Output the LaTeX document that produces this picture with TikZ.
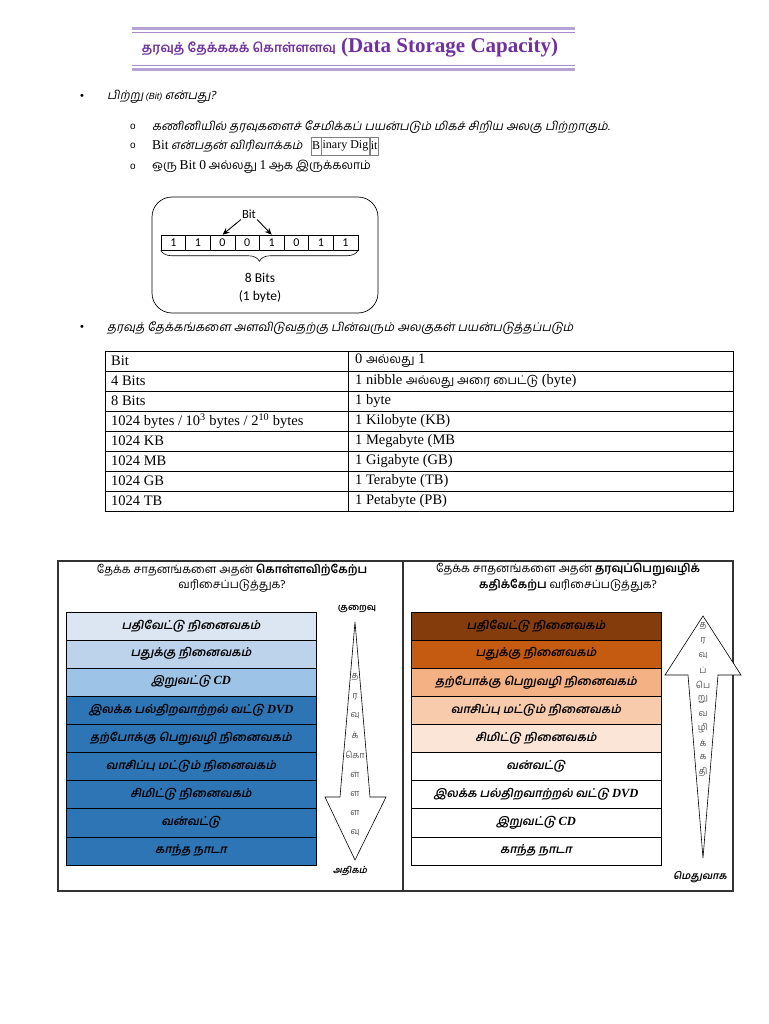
\documentclass[tikz,border=0pt]{standalone}
\usepackage{fontspec}
\setmainfont{Liberation Serif}
\newfontfamily\tam[Script=Tamil]{Hind Madurai}
\newfontfamily\tamit[Script=Tamil,FakeSlant=0.2]{Hind Madurai}
\newfontfamily\arialf{Liberation Sans}
\newfontfamily\calf{Carlito}
\usetikzlibrary{decorations.pathreplacing,arrows.meta}
\definecolor{ttl}{HTML}{7030A0}
\definecolor{ttlline}{HTML}{B7A2D4}
\definecolor{bA}{HTML}{DCE6F2}
\definecolor{bB}{HTML}{BDD3EB}
\definecolor{bC}{HTML}{9DC3E6}
\definecolor{bD}{HTML}{2E75B6}
\definecolor{oA}{HTML}{843C0C}
\definecolor{oB}{HTML}{C55A11}
\definecolor{oC}{HTML}{F4B183}
\definecolor{oD}{HTML}{F8CBAD}
\definecolor{oE}{HTML}{FBE5D6}
\definecolor{arrtxt}{HTML}{555555}
\tikzset{
  txt/.style={inner sep=0pt, anchor=west},
  bul/.style={inner sep=0pt, font=\arialf\fontsize{11}{12}\selectfont},
  subbul/.style={inner sep=0pt, font=\arialf\fontsize{10}{12}\selectfont},
  cell/.style={draw, line width=0.5pt, minimum width=24.6pt, minimum height=15pt, inner sep=0pt, font=\calf\fontsize{12}{14}\selectfont},
  boxcell/.style={draw=gray, line width=0.6pt, inner sep=1pt, minimum height=18pt, font=\fontsize{12}{14}\selectfont, anchor=west},
  tcell/.style={inner sep=0pt, anchor=west, font=\fontsize{14.5}{16}\selectfont},
  stackbox/.style={draw, line width=0.6pt, minimum width=250pt, minimum height=28.1pt, inner sep=0pt, font=\tamit\bfseries\fontsize{11.5}{13}\selectfont},
  vchar/.style={inner sep=0pt, text=arrtxt, font=\tam\fontsize{9}{10}\selectfont},
  hdr/.style={inner sep=0pt, font=\tam\fontsize{11.5}{13}\selectfont},
  arrowshape/.style={draw, line width=0.6pt, fill=white},
}
\newcommand\tamtw{\tam\fontsize{12}{14}\selectfont}
\begin{document}
\begin{tikzpicture}[x=1pt,y=-1pt]
\useasboundingbox (0,0) rectangle (768,1024);
\fill[white] (0,0) rectangle (768,1024);

% Title
\draw[ttlline, line width=3pt] (132,28.5) -- (575,28.5);
\draw[ttlline!80!ttl, line width=0.7pt] (132,32.8) -- (575,32.8);
\draw[ttlline!80!ttl, line width=0.7pt] (132,65.5) -- (575,65.5);
\draw[ttlline, line width=3pt] (132,69.5) -- (575,69.5);
\node[inner sep=0pt, text=ttl] (title) at (350,48) {{\tam\bfseries\fontsize{13}{16}\selectfont தரவுத் தேக்ககக் கொள்ளளவு}\ \ {\bfseries\fontsize{21}{24}\selectfont (Data Storage Capacity)}};

% Bullets
\node[bul] (b1) at (82,97) {•};
\node[txt] (t1) at (107,97) {{\tamit\fontsize{12}{14}\selectfont பிற்று} {\arialf\itshape\fontsize{9}{10}\selectfont (Bit)} {\tamit\fontsize{12}{14}\selectfont என்பது?}};
\node[subbul] (s1) at (133,127) {o};
\node[txt] (r1) at (152,127) {\tamit\fontsize{12}{14}\selectfont கணினியில் தரவுகளைச் சேமிக்கப் பயன்படும் மிகச் சிறிய அலகு பிற்றாகும்.};
\node[subbul] (s2) at (133,146) {o};
\node[txt] (r2) at (152,146) {{\fontsize{13.5}{15}\selectfont Bit} {\tamit\fontsize{12}{14}\selectfont என்பதன் விரிவாக்கம்}};
\node[boxcell, xshift=8pt] (bx1) at (r2.east) {B};
\node[boxcell] (bx2) at (bx1.east) {inary Dig};
\node[boxcell] (bx3) at (bx2.east) {it};
\node[subbul] (s3) at (133,167) {o};
\node[txt] (r3) at (152,167) {{\tamtw ஒரு} {\fontsize{13.5}{15}\selectfont Bit 0} {\tamtw அல்லது} {\fontsize{13.5}{15}\selectfont 1} {\tamtw ஆக இருக்கலாம்}};

% Bit diagram
\draw[line width=0.7pt, rounded corners=20pt] (152,197) rectangle (378,313);
\foreach \d [count=\i] in {1,1,0,0,1,0,1,1} {
  \node[cell] (c\i) at ({161+12.3+24.6*(\i-1)},242.5) {\d};
}
\node[inner sep=1pt, font=\calf\fontsize{12.5}{14}\selectfont] (bitlbl) at (249,214) {Bit};
\draw[-{Stealth[length=7pt,width=6pt]}, line width=0.9pt] (bitlbl.south west) -- (c3.north);
\draw[-{Stealth[length=7pt,width=6pt]}, line width=0.9pt] (bitlbl.south east) -- (c5.north);
\draw[line width=0.6pt, decorate, decoration={brace, mirror, amplitude=11pt}] (c1.south west) -- (c8.south east);
\node[inner sep=0pt, font=\calf\fontsize{13.5}{15}\selectfont] (eight) at (260,278) {8 Bits};
\node[inner sep=0pt, font=\calf\fontsize{13.5}{15}\selectfont] (onebyte) at (260,297) {(1 byte)};

% Second bullet
\node[bul] (b2) at (82,328) {•};
\node[txt] (t2) at (107,328) {\tamit\fontsize{12}{14}\selectfont தரவுத் தேக்கங்களை அளவிடுவதற்கு பின்வரும் அலகுகள் பயன்படுத்தப்படும்};

% Table
\draw[line width=0.7pt] (105,351) rectangle (733,511);
\draw[line width=0.7pt] (348,351) -- (348,511);
\foreach \k in {1,...,7} { \draw[line width=0.7pt] (105,{351+20*\k}) -- (733,{351+20*\k}); }
\node[tcell] (l1) at (111,361) {Bit};
\node[tcell] (q1) at (355,361) {0 {\tamtw அல்லது} 1};
\node[tcell] (l2) at (111,381) {4 Bits};
\node[tcell] (q2) at (355,381) {1 nibble {\tamtw அல்லது அரை பைட்டு} (byte)};
\node[tcell] (l3) at (111,401) {8 Bits};
\node[tcell] (q3) at (355,401) {1 byte};
\node[tcell] (l4) at (111,421) {1024 bytes / 10\textsuperscript{3} bytes / 2\textsuperscript{10} bytes};
\node[tcell] (q4) at (355,421) {1 Kilobyte (KB)};
\node[tcell] (l5) at (111,441) {1024 KB};
\node[tcell] (q5) at (355,441) {1 Megabyte (MB};
\node[tcell] (l6) at (111,461) {1024 MB};
\node[tcell] (q6) at (355,461) {1 Gigabyte (GB)};
\node[tcell] (l7) at (111,481) {1024 GB};
\node[tcell] (q7) at (355,481) {1 Terabyte (TB)};
\node[tcell] (l8) at (111,501) {1024 TB};
\node[tcell] (q8) at (355,501) {1 Petabyte (PB)};

% Bottom panel
\draw[line width=1.1pt, draw=black!80] (58,561) rectangle (733,891);
\draw[line width=1.1pt, draw=black!80] (403,561) -- (403,891);
\node[hdr] (hl1) at (232,570) {தேக்க சாதனங்களை அதன் {\bfseries கொள்ளவிற்கேற்ப}};
\node[hdr] (hl2) at (232,586) {வரிசைப்படுத்துக?};
\node[hdr] (hr1) at (568,570) {தேக்க சாதனங்களை அதன் {\bfseries தரவுப்பெறுவழிக்}};
\node[hdr] (hr2) at (568,586) {{\bfseries கதிக்கேற்ப} வரிசைப்படுத்துக?};

% Left stack
\node[stackbox, fill=bA] (L1) at (191,{612+28.1*0.5}) {பதிவேட்டு நினைவகம்};
\node[stackbox, fill=bB] (L2) at (191,{612+28.1*1.5}) {பதுக்கு நினைவகம்};
\node[stackbox, fill=bC] (L3) at (191,{612+28.1*2.5}) {இறுவட்டு {\rmfamily\bfseries\itshape\fontsize{12.5}{14}\selectfont CD}};
\node[stackbox, fill=bD] (L4) at (191,{612+28.1*3.5}) {இலக்க பல்திறவாற்றல் வட்டு {\rmfamily\bfseries\itshape\fontsize{12.5}{14}\selectfont DVD}};
\node[stackbox, fill=bD] (L5) at (191,{612+28.1*4.5}) {தற்போக்கு பெறுவழி நினைவகம்};
\node[stackbox, fill=bD] (L6) at (191,{612+28.1*5.5}) {வாசிப்பு மட்டும் நினைவகம்};
\node[stackbox, fill=bD] (L7) at (191,{612+28.1*6.5}) {சிமிட்டு நினைவகம்};
\node[stackbox, fill=bD] (L8) at (191,{612+28.1*7.5}) {வன்வட்டு};
\node[stackbox, fill=bD] (L9) at (191,{612+28.1*8.5}) {காந்த நாடா};

% Right stack
\node[stackbox, fill=oA] (R1) at (536,{612+28.1*0.5}) {பதிவேட்டு நினைவகம்};
\node[stackbox, fill=oB] (R2) at (536,{612+28.1*1.5}) {பதுக்கு நினைவகம்};
\node[stackbox, fill=oC] (R3) at (536,{612+28.1*2.5}) {தற்போக்கு பெறுவழி நினைவகம்};
\node[stackbox, fill=oD] (R4) at (536,{612+28.1*3.5}) {வாசிப்பு மட்டும் நினைவகம்};
\node[stackbox, fill=oE] (R5) at (536,{612+28.1*4.5}) {சிமிட்டு நினைவகம்};
\node[stackbox, fill=white] (R6) at (536,{612+28.1*5.5}) {வன்வட்டு};
\node[stackbox, fill=white] (R7) at (536,{612+28.1*6.5}) {இலக்க பல்திறவாற்றல் வட்டு {\rmfamily\bfseries\itshape\fontsize{12.5}{14}\selectfont DVD}};
\node[stackbox, fill=white] (R8) at (536,{612+28.1*7.5}) {இறுவட்டு {\rmfamily\bfseries\itshape\fontsize{12.5}{14}\selectfont CD}};
\node[stackbox, fill=white] (R9) at (536,{612+28.1*8.5}) {காந்த நாடா};

% Left arrow (down)
\draw[arrowshape] (355,622) -- (370,797) -- (386,797) -- (355,860) -- (325,797) -- (340,797) -- cycle;
\foreach \c [count=\i] in {த,ர,வு,க்,கொ,ள்,ள,ள,வு} {
  \node[vchar] (lv\i) at (355,{677+19.5*(\i-1)}) {\c};
}
\node[inner sep=0pt, font=\tam\bfseries\fontsize{9}{10}\selectfont] (kurai) at (357,609) {குறைவு};
\node[inner sep=0pt, font=\tamit\bfseries\fontsize{9}{10}\selectfont] (athi) at (350,871) {அதிகம்};

% Right arrow (up)
\draw[arrowshape] (703,616) -- (741,675) -- (718,675) -- (703,858) -- (688,675) -- (665,675) -- cycle;
\foreach \c [count=\i] in {த,ர,வு,ப்,பெ,று,வ,ழி,க்,க,தி} {
  \node[vchar] (rv\i) at (703,{626+14.6*(\i-1)}) {\c};
}
\node[inner sep=0pt, font=\tamit\bfseries\fontsize{10}{11}\selectfont] (methu) at (700,877) {மெதுவாக};
\end{tikzpicture}
\end{document}
